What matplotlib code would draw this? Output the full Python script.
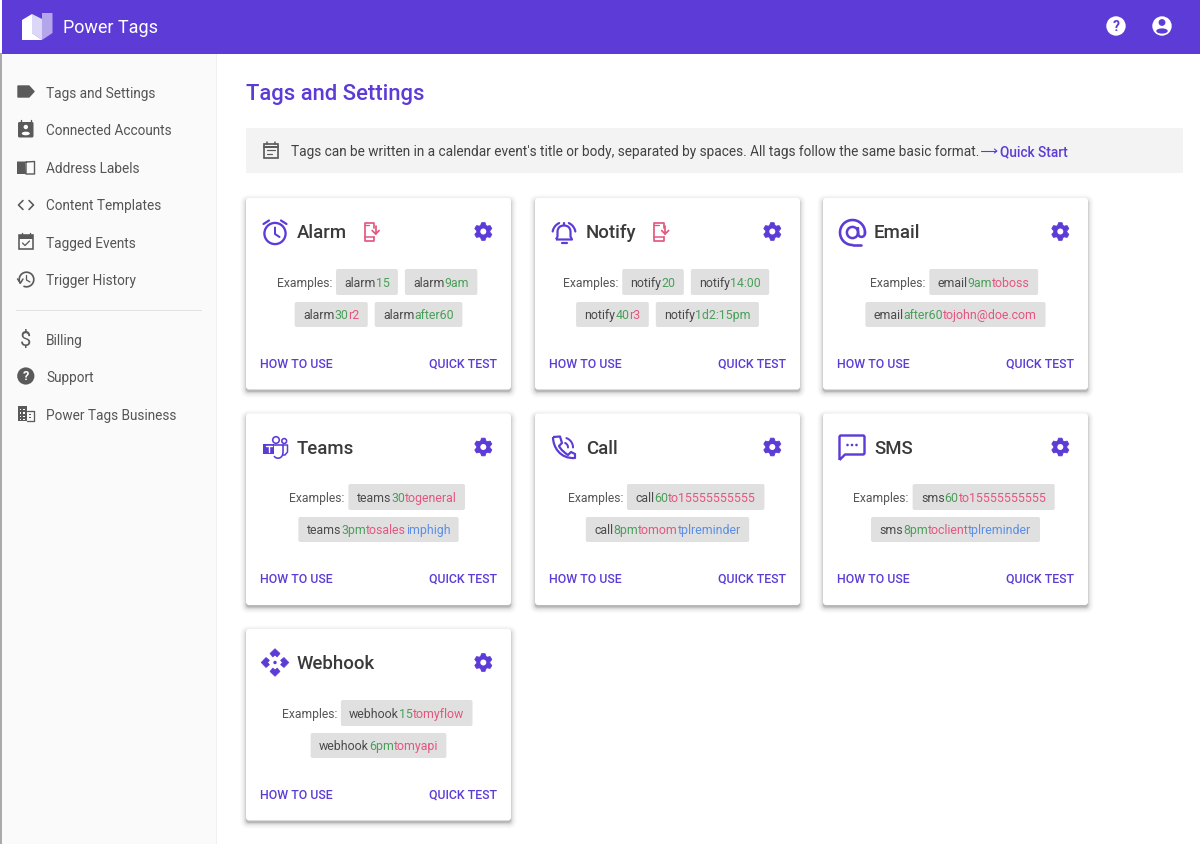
import numpy as np
import matplotlib
matplotlib.use("Agg")
import matplotlib.pyplot as plt
from matplotlib.patches import FancyBboxPatch, Rectangle, Circle, Polygon, Ellipse, PathPatch
from matplotlib.path import Path

plt.rcParams['font.family'] = ['Roboto', 'DejaVu Sans']

PURPLE = "#5c3bd6"
DARK = "#424242"
GREY = "#555555"
TAG_COLORS = ["#4a4a4a", "#4a9f5a", "#e4557f", "#5b8ee6"]

# data
app_name = "Power Tags"
page_title = "Tags and Settings"
nav_top = ["Tags and Settings", "Connected Accounts", "Address Labels",
           "Content Templates", "Tagged Events", "Trigger History"]
nav_bottom = ["Billing", "Support", "Power Tags Business"]
info_text = ("Tags can be written in a calendar event's title or body, separated by spaces. "
             "All tags follow the same basic format.")
info_link = "Quick Start"
card_names = ["Alarm", "Notify", "Email", "Teams", "Call", "SMS", "Webhook"]
has_phone_icon = [True, True, False, False, False, False, False]
# every tag is (base, time, target, extra), the colour goes by position
alarm_tags = [[("alarm", "15", "", ""), ("alarm", "9am", "", "")],
              [("alarm", "30", "r2", ""), ("alarm", "after60", "", "")]]
notify_tags = [[("notify", "20", "", ""), ("notify", "14:00", "", "")],
               [("notify", "40", "r3", ""), ("notify", "1d2:15pm", "", "")]]
email_tags = [[("email", "9am", "toboss", "")],
              [("email", "after60", "tojohn@doe.com", "")]]
teams_tags = [[("teams", "30", "togeneral", "")],
              [("teams", "3pm", "tosales", "imphigh")]]
call_tags = [[("call", "60", "to15555555555", "")],
             [("call", "8pm", "tomom", "tplreminder")]]
sms_tags = [[("sms", "60", "to15555555555", "")],
            [("sms", "8pm", "toclient", "tplreminder")]]
webhook_tags = [[("webhook", "15", "tomyflow", "")],
                [("webhook", "6pm", "tomyapi", "")]]
card_tags = [alarm_tags, notify_tags, email_tags, teams_tags, call_tags, sms_tags, webhook_tags]

fig = plt.figure(figsize=(12, 8.44), dpi=100)
ax = fig.add_axes([0, 0, 1, 1])
ax.set_xlim(0, 1200)
ax.set_ylim(844, 0)
ax.axis("off")
renderer = fig.canvas.get_renderer()


def px(size):
    return size * 0.72


def txt(x, y, s, size=14, color=GREY, weight="normal", ha="left"):
    # whole pixel baselines, half ones get rounded differently from word to word
    return ax.text(x, np.floor(y), s, fontsize=px(size), color=color, fontweight=weight, ha=ha, va="baseline")


def width(t):
    return t.get_window_extent(renderer).width


def measure(s, size):
    t = txt(0, 0, s, size=size)
    w = width(t)
    t.remove()
    return w


def rrect(x0, y0, x1, y1, r=3, **kw):
    p = FancyBboxPatch((x0, y0), x1 - x0, y1 - y0, boxstyle="round,pad=0,rounding_size=%g" % r,
                       linewidth=kw.pop("lw", 0), **kw)
    ax.add_patch(p)
    return p


def line(xs, ys, color=PURPLE, lw=2.0, **kw):
    ax.plot(xs, ys, color=color, lw=px(lw), solid_capstyle="round", solid_joinstyle="round", **kw)


def arc(cx, cy, r, a0, a1, color=PURPLE, lw=2.0):
    t = np.radians(np.linspace(a0, a1, 40))
    line(cx + r * np.cos(t), cy + r * np.sin(t), color, lw)


def gear(cx, cy, color=PURPLE):
    pts = []
    for k in range(6):
        a = k * 60 + 30
        for da, r in [(-24, 6.6), (-11, 9), (11, 9), (24, 6.6)]:
            t = np.radians(a + da)
            pts.append((cx + r * np.cos(t), cy + r * np.sin(t)))
    ax.add_patch(Polygon(pts, closed=True, fc=color, ec=color, lw=0.6))
    ax.add_patch(Circle((cx, cy), 3.0, fc="white", lw=0))


def icon_alarm(cx, cy):
    ax.add_patch(Circle((cx, cy + 2), 10.6, fc="none", ec=PURPLE, lw=px(2.3)))
    line([cx, cx, cx + 4.5], [cy - 4, cy + 2.5, cy + 5.5], lw=2)
    line([cx - 11.5, cx - 6], [cy - 7.5, cy - 11], lw=2.2)
    line([cx + 11.5, cx + 6], [cy - 7.5, cy - 11], lw=2.2)


def icon_bell(cx, cy):
    v = [(cx - 8, cy + 7), (cx - 6.5, cy + 4), (cx - 6.5, cy - 1), (cx - 6, cy - 7), (cx, cy - 7),
         (cx + 6, cy - 7), (cx + 6.5, cy - 1), (cx + 6.5, cy + 4), (cx + 8, cy + 7), (cx - 8, cy + 7)]
    c = [Path.MOVETO, Path.LINETO, Path.LINETO, Path.CURVE3, Path.CURVE3,
         Path.CURVE3, Path.CURVE3, Path.LINETO, Path.LINETO, Path.LINETO]
    ax.add_patch(PathPatch(Path(v, c), fc="none", ec=PURPLE, lw=px(2.2), joinstyle="round"))
    line([cx - 2.5, cx + 2.5], [cy + 10.5, cy + 10.5], lw=2.2)
    line([cx, cx], [cy - 10, cy - 8], lw=2.2)
    arc(cx, cy + 1, 11.5, 190, 245, lw=2.2)
    arc(cx, cy + 1, 11.5, 295, 350, lw=2.2)


def icon_at(cx, cy):
    arc(cx, cy, 12.5, 0, -270, lw=2.6)
    line([cx, cx + 8], [cy + 12.5, cy + 12.5], lw=2.6)
    ax.add_patch(Circle((cx, cy), 5.6, fc="none", ec=PURPLE, lw=px(2.5)))
    line([cx + 5.6, cx + 5.6], [cy - 5, cy + 1], lw=2.5)
    arc(cx + 9, cy + 1, 3.4, 0, 180, lw=2.5)
    line([cx + 12.5, cx + 12.5], [cy - 1, cy + 1], lw=2.5)


def icon_teams(cx, cy):
    ax.add_patch(Rectangle((cx - 12, cy - 3.5), 11, 10.5, fc=PURPLE, lw=0))
    line([cx - 9.5, cx - 3.5], [cy - 1, cy - 1], color="white", lw=1.4)
    line([cx - 6.5, cx - 6.5], [cy - 1, cy + 5], color="white", lw=1.4)
    ax.add_patch(Circle((cx + 1, cy - 7), 3.3, fc="white", ec=PURPLE, lw=px(1.6)))
    ax.add_patch(Circle((cx + 9.2, cy - 6), 2.4, fc="white", ec=PURPLE, lw=px(1.6)))
    line([cx + 8, cx + 12.5, cx + 12.5, cx + 10, cx + 8], [cy - 2, cy - 2, cy + 5, cy + 8, cy + 8], lw=1.5)
    line([cx - 1, cx + 7.5, cx + 7.5], [cy - 2, cy - 2, cy + 6], lw=1.6)
    arc(cx + 3, cy + 6.5, 4.7, 0, 140, lw=1.6)


def icon_call(cx, cy):
    v = [(cx - 11, cy - 10), (cx - 4, cy - 10.5), (cx - 2, cy - 4), (cx - 5, cy - 1),
         (cx - 3, cy + 3), (cx + 1, cy + 6), (cx + 4, cy + 8), (cx + 7, cy + 5),
         (cx + 11, cy + 7), (cx + 11, cy + 11), (cx - 4, cy + 12), (cx - 11, cy), (cx - 11, cy - 10)]
    c = [Path.MOVETO, Path.LINETO, Path.LINETO, Path.LINETO,
         Path.CURVE4, Path.CURVE4, Path.CURVE4, Path.LINETO,
         Path.LINETO, Path.LINETO, Path.CURVE4, Path.CURVE4, Path.CURVE4]
    ax.add_patch(PathPatch(Path(v, c), fc="none", ec=PURPLE, lw=px(2.2), joinstyle="round"))
    arc(cx - 1, cy + 0.5, 5, -65, 0, lw=2)
    arc(cx - 1, cy + 0.5, 10, -70, 0, lw=2)


def icon_sms(cx, cy):
    x0, x1, y0, y1 = cx - 12.5, cx + 12.5, cy - 11.5, cy + 7.5
    v = [(x0, cy + 13), (x0, y0 + 1.5), (x0, y0), (x0 + 1.5, y0), (x1 - 1.5, y0), (x1, y0), (x1, y0 + 1.5),
         (x1, y1 - 1.5), (x1, y1), (x1 - 1.5, y1), (cx - 7, y1), (x0, cy + 13)]
    c = [Path.MOVETO, Path.LINETO, Path.CURVE3, Path.CURVE3, Path.LINETO, Path.CURVE3, Path.CURVE3,
         Path.LINETO, Path.CURVE3, Path.CURVE3, Path.LINETO, Path.LINETO]
    ax.add_patch(PathPatch(Path(v, c), fc="none", ec=PURPLE, lw=px(2.4), joinstyle="round"))
    for dx in (-4.5, 0, 4.5):
        ax.add_patch(Circle((cx + dx, cy - 2), 1.3, fc=PURPLE, lw=0))


def icon_webhook(cx, cy):
    for a in range(0, 360, 90):
        t = np.radians(a)
        ux, uy = np.cos(t), np.sin(t)
        vx, vy = -uy, ux
        shape = [(13.8, 0), (9, 5), (5.6, 2.2), (7.4, 0), (5.6, -2.2), (9, -5)]
        ax.add_patch(Polygon([(cx + p * ux + q * vx, cy + p * uy + q * vy) for p, q in shape],
                             closed=True, fc=PURPLE, ec=PURPLE, lw=0.5))
    ax.add_patch(Circle((cx, cy), 1.7, fc=PURPLE, lw=0))


def icon_phone(cx, cy, color="#e4557f"):
    line([cx + 4, cx + 4, cx - 5.5, cx - 5.5, cx + 4, cx + 4],
         [cy - 4, cy - 9, cy - 9, cy + 9, cy + 9, cy + 5.5], color, 1.7)
    line([cx - 5.5, cx + 4], [cy + 5.5, cy + 5.5], color, 1.5)
    line([cx - 5.5, cx - 1], [cy - 6.5, cy - 6.5], color, 1.3)
    line([cx + 5.5, cx + 5.5], [cy - 6, cy + 2.5], color, 1.7)
    line([cx + 2, cx + 5.5, cx + 9], [cy - 1, cy + 2.5, cy - 1], color, 1.7)


card_icons = [icon_alarm, icon_bell, icon_at, icon_teams, icon_call, icon_sms, icon_webhook]
icon_offset = [(29, 33), (29, 34), (29.5, 34), (29, 33), (29, 33), (29, 33), (29, 33)]

# page background parts
ax.add_patch(Rectangle((0, 0), 1200, 844, fc="white", lw=0))
ax.add_patch(Rectangle((0, 53), 216, 791, fc="#fafafa", lw=0))
ax.add_patch(Rectangle((216, 53), 1, 791, fc="#f0f0f0", lw=0))
ax.add_patch(Rectangle((0, 53), 1.7, 791, fc="#aaaaaa", lw=0))
ax.add_patch(Rectangle((1.7, 0), 1198.3, 53.5, fc=PURPLE, lw=0))

# logo
ax.add_patch(Polygon([(42, 13), (52.5, 13), (52.5, 33), (42, 40)], fc="#b5a6ec", lw=0))
ax.add_patch(Polygon([(32, 14), (42, 19), (42, 40), (32, 33)], fc="#ddd7f7", lw=0))
ax.add_patch(Polygon([(32, 14), (32, 33), (42, 40), (22, 40), (22, 20)], fc="white", lw=0))
txt(63, 33, app_name, size=18, color="white")

# header right icons
ax.add_patch(Circle((1116, 26), 9.7, fc="white", lw=0))
txt(1116, 31, "?", size=14, color=PURPLE, weight="bold", ha="center")
ax.add_patch(Circle((1162, 26), 9.7, fc="white", lw=0))
ax.add_patch(Circle((1162, 22.5), 3.4, fc=PURPLE, lw=0))
ax.add_patch(Ellipse((1162, 31), 11.5, 5.2, fc=PURPLE, lw=0))

# sidebar
nav_top_y = np.arange(len(nav_top)) * 37.5 + 98
nav_bottom_y = np.arange(len(nav_bottom)) * 37.5 + 345
for s, y in zip(nav_top, nav_top_y):
    txt(46, y, s, size=13.6)
for s, y in zip(nav_bottom, nav_bottom_y):
    txt(46, y, s, size=13.6)
ax.add_patch(Rectangle((16, 310), 186, 1, fc="#e2e2e2", lw=0))

IC = "#5a5a5a"
# tag
ax.add_patch(Polygon([(18, 86), (29, 86), (34, 91.5), (29, 97), (18, 97)], fc=IC, ec=IC, lw=1, joinstyle="round"))
# contact
rrect(18, 122, 33.5, 137.5, r=1.5, fc=IC)
line([21, 21], [120, 122], IC, 1.4)
line([30.5, 30.5], [120, 122], IC, 1.4)
ax.add_patch(Circle((25.8, 127), 2.2, fc="white", lw=0))
ax.add_patch(Ellipse((25.8, 133.5), 8, 3.6, fc="white", lw=0))
# book
ax.add_patch(Polygon([(17, 161.5), (25, 161.5), (26, 174), (17, 174)], fc=IC, lw=0))
line([26, 26, 34.5, 34.5, 26], [162, 174, 174, 161.5, 162], IC, 1.4)
# code
line([23, 18.5, 23], [200.5, 205, 209.5], IC, 1.6)
line([29, 33.5, 29], [200.5, 205, 209.5], IC, 1.6)
# calendar check
ax.add_patch(Rectangle((18.5, 235), 14.5, 13.5, fc="none", ec=IC, lw=px(1.6)))
ax.add_patch(Rectangle((18.5, 235), 14.5, 3.5, fc=IC, lw=0))
line([21.5, 21.5], [232.5, 235], IC, 1.4)
line([30, 30], [232.5, 235], IC, 1.4)
line([22.5, 25, 29.5], [243, 245.5, 241], IC, 1.3)
# history
arc(26.5, 279.5, 7.3, 150, 510 - 40, IC, 1.7)
line([26.5, 26.5, 30], [275.5, 280, 282], IC, 1.3)
line([17.5, 20.5, 23], [279, 283, 279], IC, 1.5)
# dollar, support, business
txt(25.5, 346, "$", size=20, color=IC, ha="center")
ax.add_patch(Circle((25.8, 376), 8.6, fc=IC, lw=0))
txt(25.8, 380.5, "?", size=12.5, color="white", weight="bold", ha="center")
ax.add_patch(Rectangle((17.5, 406), 9, 15, fc=IC, lw=0))
line([26.5, 34, 34, 26.5], [411, 411, 420.5, 420.5], IC, 1.3)
for bx in (19.5, 23):
    for by in (408.5, 412, 415.5, 418.5):
        ax.add_patch(Rectangle((bx, by), 1.5, 1.5, fc="white", lw=0))
for by in (413.5, 416.5):
    ax.add_patch(Rectangle((29, by), 2, 1.5, fc=IC, lw=0))

# title and info bar
txt(246, 100, page_title, size=22, color=PURPLE, weight="medium")
rrect(246, 128, 1183, 173, r=1, fc="#f3f3f3")
ax.add_patch(Rectangle((263.5, 143.5), 14, 14, fc="none", ec=IC, lw=px(1.7)))
line([263.5, 278], [146.5, 146.5], IC, 2)
line([267, 267], [141.5, 143.5], IC, 1.5)
line([274.5, 274.5], [141.5, 143.5], IC, 1.5)
line([266.5, 275], [150, 150], IC, 1.2)
line([266.5, 272], [153.5, 153.5], IC, 1.2)
t = txt(291, 156, info_text, size=13.6, color=DARK)
link_x = 291 + width(t) + 2
line([link_x, link_x + 15], [151, 151], PURPLE, 1.1)
line([link_x + 13, link_x + 15.5, link_x + 13], [149, 151, 153], PURPLE, 1.1)
txt(link_x + 19, 156, info_link, size=13.6, color=PURPLE, weight="medium")

# cards
card_xs = [246, 535, 823, 246, 535, 823, 246]
card_ys = [198, 198, 198, 413.5, 413.5, 413.5, 629]
CARD_W, CARD_H = 265, 191.5
TAG_SIZE = 12.4
CHIP_PAD = 8.3

for i, name in enumerate(card_names):
    x0, y0 = card_xs[i], card_ys[i]
    x1, y1 = x0 + CARD_W, y0 + CARD_H
    for grow, alpha in [(6, 0.012), (5, 0.016), (4, 0.02), (3, 0.028), (2, 0.04), (1, 0.07), (0, 0.12)]:
        rrect(x0 - grow, y0 - grow + 2.5, x1 + grow, y1 + grow + 2.5, r=3 + grow, fc="black", alpha=alpha)
    rrect(x0, y0, x1, y1, r=3, fc="white")

    ox, oy = icon_offset[i]
    card_icons[i](x0 + ox, y0 + oy + 0.5)
    t = txt(x0 + 51, y0 + 40.5, name, size=18.6, color="#3a3a3a", weight="medium")
    if has_phone_icon[i]:
        icon_phone(x0 + 51 + width(t) + 23, y0 + 33.5)
    gear(x0 + 237.3, y0 + 33.5)

    cx = x0 + CARD_W / 2
    for r, row in enumerate(card_tags[i]):
        base = np.floor(y0 + 89) + r * 32
        chips = []
        for tag in row:
            chips.append((tag, measure("".join(tag), TAG_SIZE) + 2 * CHIP_PAD))
        total = sum(c[1] for c in chips) + 7 * (len(chips) - 1)
        if r == 0:
            lab = txt(0, base, "Examples:", size=12.1, color=GREY)
            lw_ = width(lab)
            start = cx - (total + lw_ + 4) / 2 - 1.5
            lab.set_x(start)
            chip_x = start + lw_ + 4
        else:
            chip_x = cx - total / 2
        for tag, w in chips:
            rrect(chip_x, base - 18 + (r == 1) * 1, chip_x + w, base + 8, r=2, fc="#e0e0e0", zorder=1.5)
            prefix = ""
            for part, col in zip(tag, TAG_COLORS):
                if part:
                    # place each part after the whole text before it, so the gaps stay even
                    sx = chip_x + CHIP_PAD + (measure(prefix, TAG_SIZE) if prefix else 0)
                    txt(sx, base, part, size=TAG_SIZE, color=col)
                    prefix += part
            chip_x += w + 7

    txt(x0 + 14, y0 + 170, "HOW TO USE", size=12.4, color=PURPLE, weight="medium")
    txt(x1 - 14, y0 + 170, "QUICK TEST", size=12.4, color=PURPLE, weight="medium", ha="right")

fig.savefig("out.png", dpi=100)
